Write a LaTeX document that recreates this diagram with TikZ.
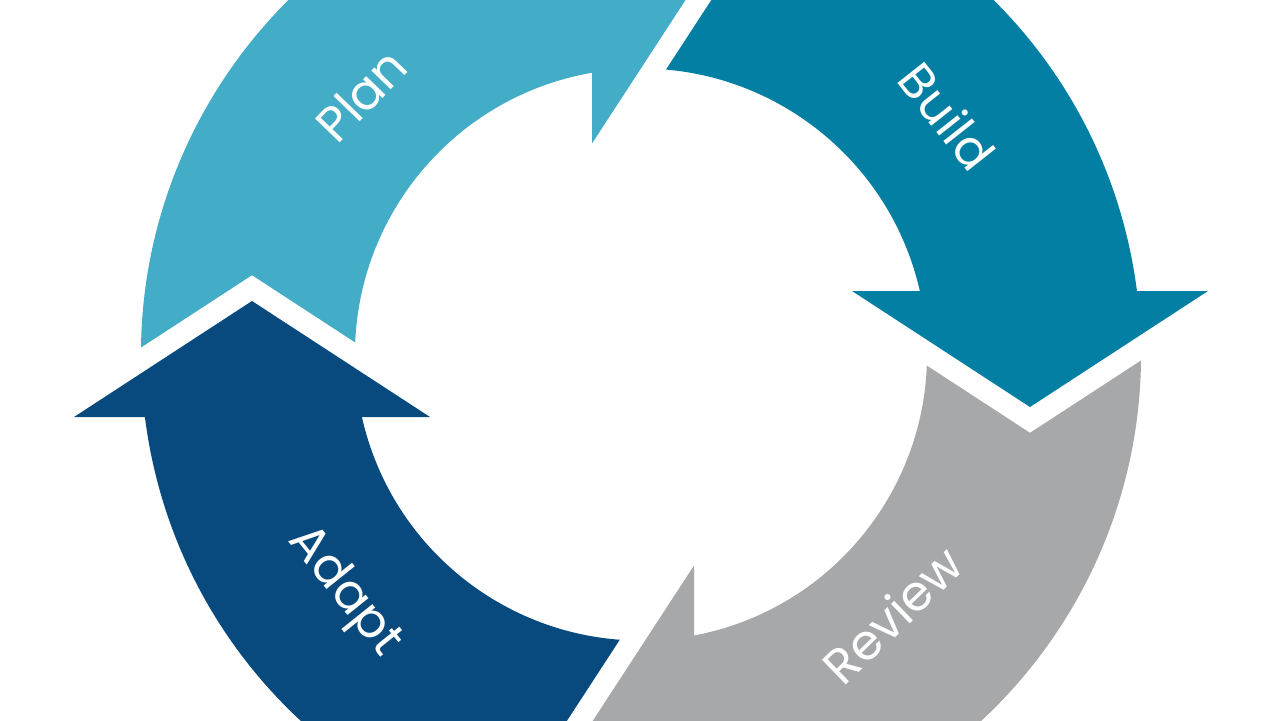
\documentclass[tikz,border=0pt]{standalone}
\usepackage{fontspec}
\setmainfont{Poppins}
\usetikzlibrary{positioning}
\definecolor{planblue}{RGB}{67,172,198}
\definecolor{buildblue}{RGB}{3,127,163}
\definecolor{reviewgray}{RGB}{167,168,170}
\definecolor{adaptblue}{RGB}{8,74,126}
\tikzset{%
   tiphead/.style={preaction={draw=white, line width=0.86cm, line join=miter}},
   cycletext/.style={text=white, inner sep=0pt, text height=0.72em, text depth=0pt,
                     font=\fontsize{28}{32}\selectfont},
}

\begin{document}
\begin{tikzpicture}[x=0.02cm, y=0.02cm]
   \clip (-641,-365.5) rectangle (639,354.5);
   % bands, each tail slides under the head before it
   \fill[planblue] (185:500) arc[start angle=185, end angle=95.51, radius=500]
      -- (99.66:286) arc[start angle=99.66, end angle=185, radius=286] -- cycle;
   \fill[buildblue] (95:500) arc[start angle=95, end angle=7.18, radius=500]
      -- (12.62:286) arc[start angle=12.62, end angle=95, radius=286] -- cycle;
   \fill[reviewgray] (5:500) arc[start angle=5, end angle=-84.03, radius=500]
      -- (-79.52:286) arc[start angle=-79.52, end angle=5, radius=286] -- cycle;
   \fill[adaptblue] (-85:500) arc[start angle=-85, end angle=-172.93, radius=500]
      -- (-167.58:286) arc[start angle=-167.58, end angle=-85, radius=286] -- cycle;
   % heads
   \path[tiphead, fill=planblue] (-49,211) -- (67,389) -- (-49,567);
   \path[tiphead, fill=buildblue] (211,63.5) -- (389,-52.5) -- (567,63.5);
   \path[tiphead, fill=reviewgray] (53,-211) -- (-63,-389) -- (53,-567);
   \path[tiphead, fill=adaptblue] (-211,-62.5) -- (-389,53.5) -- (-567,-62.5);
   % labels
   \node[cycletext, rotate=46] (plan) at (137.2:370) {Plan};
   \node[cycletext, rotate=-51.7] (build) at (37.9:376) {Build};
   \node[cycletext, rotate=44] (review) at (-46:374) {Review};
   \node[cycletext, rotate=-51.3] (adapt) at (-141.3:386) {Adapt};
\end{tikzpicture}
\end{document}
